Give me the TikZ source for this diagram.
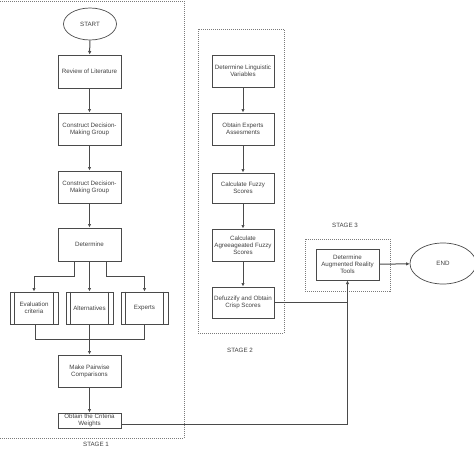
\documentclass[tikz,border=0pt]{standalone}
\usepackage{fontspec}
\setmainfont{Liberation Sans}
\usetikzlibrary{arrows.meta,shapes.geometric}
\definecolor{ln}{HTML}{4A4A4A}
\definecolor{dl}{HTML}{7A7A7A}
\begin{document}
\begin{tikzpicture}[x=1pt,y=-1pt,
  every node/.style={font=\fontsize{6.2}{7}\selectfont, text=black!75, align=center, inner sep=0pt},
  box/.style={draw=ln, line width=1pt, rectangle, minimum width=63pt, minimum height=32pt},
  proc/.style={draw=ln, line width=1pt, rectangle, minimum width=47pt, minimum height=32pt},
  oval/.style={draw=ln, line width=0.7pt, ellipse},
  stagebox/.style={draw=dl, line width=0.7pt, dash pattern=on 1pt off 1pt},
  arr/.style={draw=ln, line width=1pt, -{Latex[length=3.5pt,width=3.5pt]}},
  ln/.style={draw=ln, line width=1pt}]
\useasboundingbox (0,0) rectangle (474,450);
% stage frames
\draw[stagebox] (-3,1) rectangle (184,438);
\draw[stagebox] (198,29) rectangle (284,333);
\draw[stagebox] (305,239) rectangle (390,291);
\node (s1) at (96,444) {STAGE 1};
\node (s2) at (240,350) {STAGE 2};
\node (s3) at (345,225) {STAGE 3};
% stage 1
\node[oval, minimum width=53pt, minimum height=32pt] (start) at (90,24) {START};
\node[box, minimum height=33pt] (rev) at (89.5,71.5) {Review of Literature};
\node[box] (c1) at (89.5,129) {Construct Decision-\\Making Group};
\node[box] (c2) at (89.5,187) {Construct Decision-\\Making Group};
\node[box, minimum height=33pt] (det) at (89.5,244.5) {Determine};
\node[proc, minimum width=48pt] (eval) at (34,308) {Evaluation\\criteria};
\node[proc] (alt) at (89.5,308) {Alternatives};
\node[proc] (exp) at (144.5,308) {Experts};
\foreach \n in {eval,alt,exp}{
  \draw[ln] ([xshift=5pt]\n.north west) -- ([xshift=5pt]\n.south west);
  \draw[ln] ([xshift=-5pt]\n.north east) -- ([xshift=-5pt]\n.south east);
}
\node[box] (mpc) at (89.5,371) {Make Pairwise\\Comparisons};
\node[box, minimum height=15pt] (ocw) at (89.5,420.5) {Obtain the Criteria\\Weights};
\draw[arr] (start) -- (rev);
\draw[arr] (rev) -- (c1);
\draw[arr] (c1) -- (c2);
\draw[arr] (c2) -- (det);
\coordinate (jd) at (89.5,276);
\draw[arr] ([xshift=-15.5pt]det.south) |- (jd -| eval.north) -- (eval.north);
\draw[arr] (det.south) -- (alt.north);
\draw[arr] ([xshift=16.5pt]det.south) |- (jd -| exp.north) -- (exp.north);
\coordinate (jm) at (89.5,339);
\draw[ln] ([xshift=1pt]eval.south) |- (jm);
\draw[ln] (exp.south) |- (jm);
\draw[arr] (alt.south) -- (mpc.north);
\draw[arr] (mpc) -- (ocw);
% stage 2
\node[box, minimum width=62pt] (dlv) at (243,71) {Determine Linguistic\\Variables};
\node[box, minimum width=62pt] (oea) at (243,129) {Obtain Experts\\Assesments};
\node[box, minimum width=62pt, minimum height=30pt] (cfs) at (243,188) {Calculate Fuzzy\\Scores};
\node[box, minimum width=62pt] (cafs) at (243,245) {Calculate\\Agreeageated Fuzzy\\Scores};
\node[box, minimum width=62pt, minimum height=31pt] (dfz) at (243,302.5) {Defuzzify and Obtain\\Crisp Scores};
\draw[arr] (dlv) -- (oea);
\draw[arr] (oea) -- (cfs);
\draw[arr] (cfs) -- (cafs);
\draw[arr] (cafs) -- (dfz);
% stage 3
\node[box, minimum height=31pt] (ar) at (347.5,264.5) {Determine\\Augmented Reality\\Tools};
\node[oval, minimum width=66pt, minimum height=41pt] (end) at (443,263.5) {END};
\draw[arr] (ar) -- (end);
\draw[ln] (dfz.east) -- (dfz.east -| ar.south);
\draw[arr] ([yshift=-3.5pt]ocw.east) -| (ar.south);
\end{tikzpicture}
\end{document}
